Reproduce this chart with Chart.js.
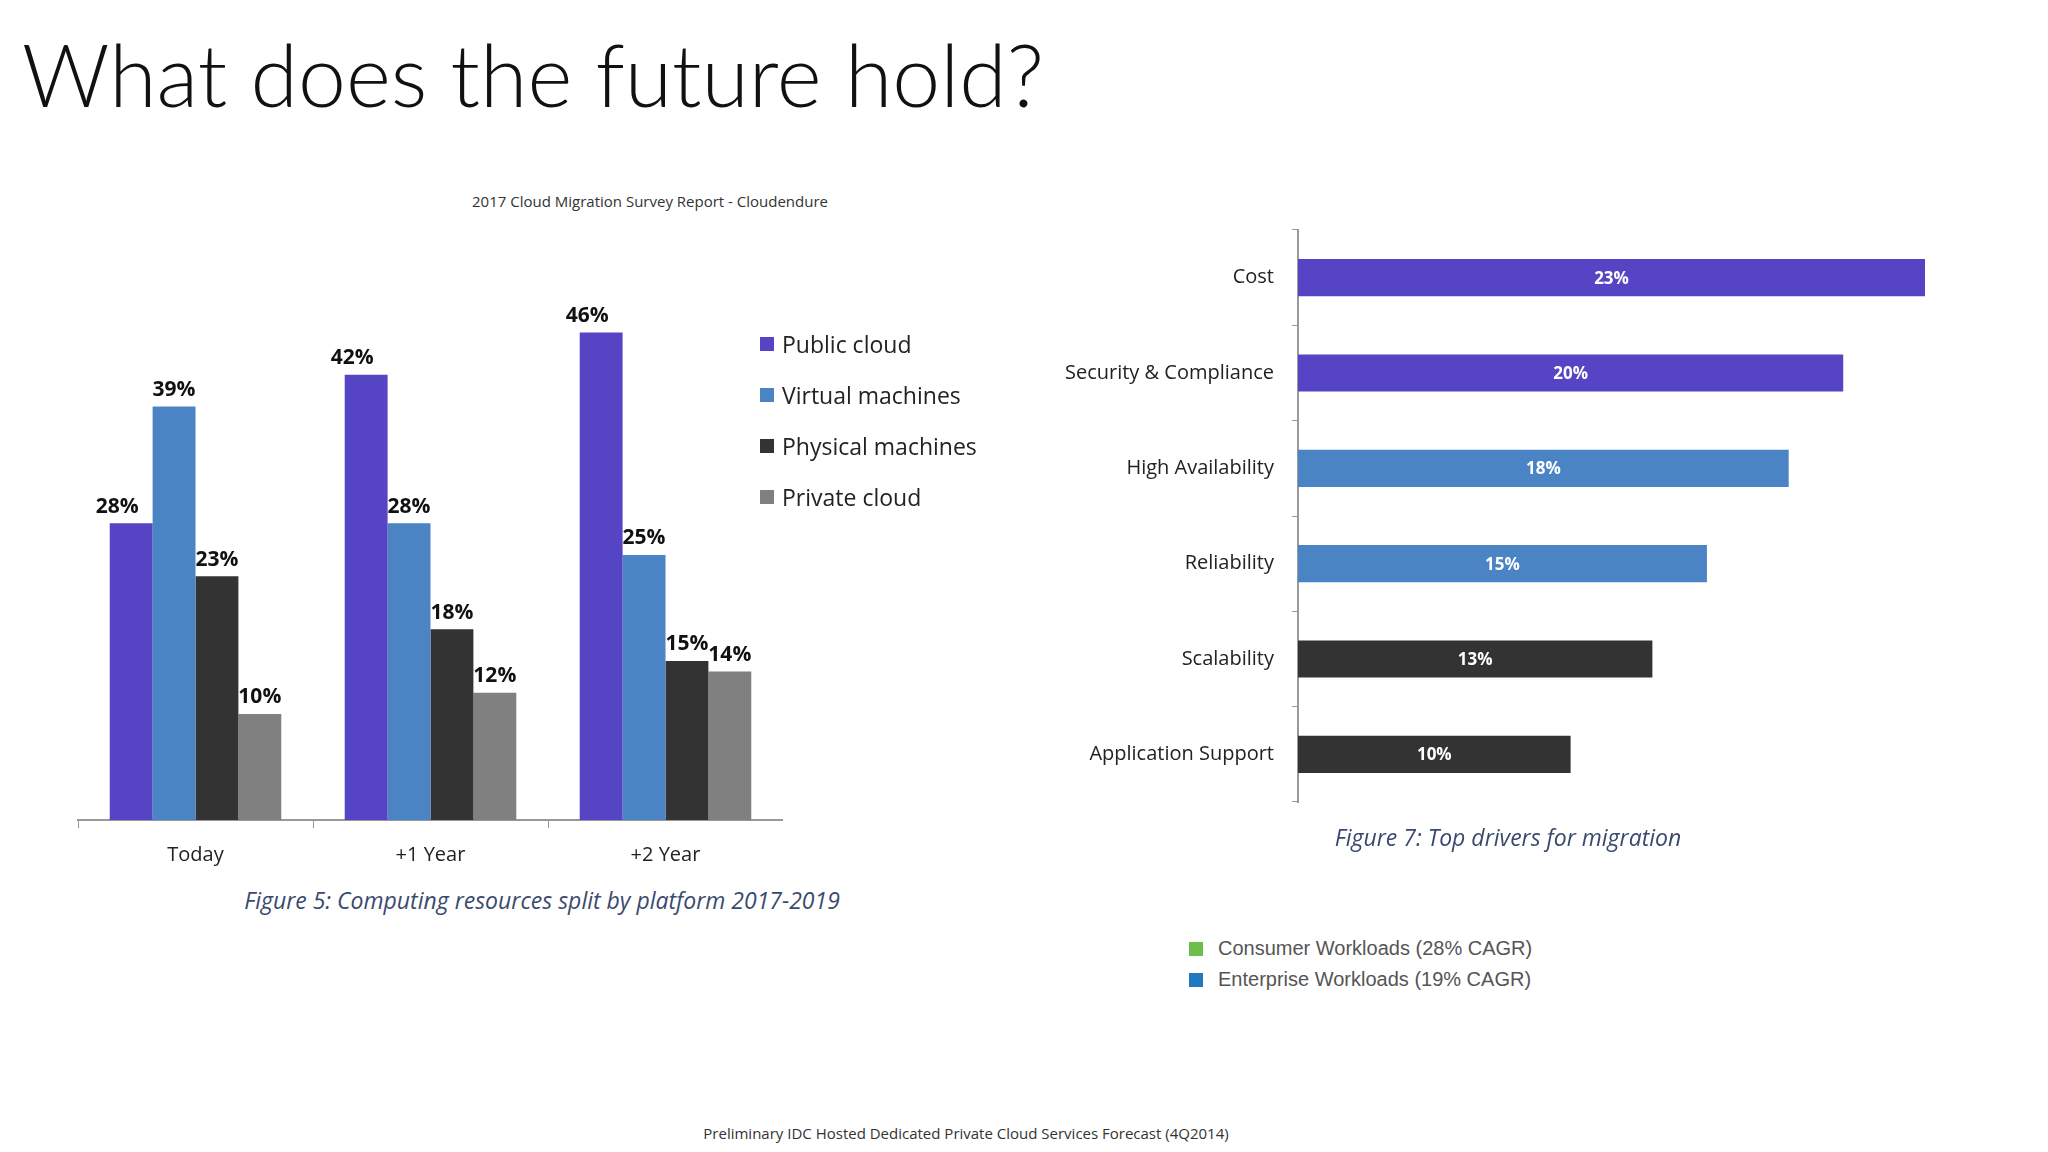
<!DOCTYPE html>
<html><head><meta charset="utf-8">
<script src="https://cdn.jsdelivr.net/npm/chart.js@4/dist/chart.umd.min.js"></script>
<style>
body{margin:0;width:2048px;height:1152px;background:#fff;position:relative;overflow:hidden;font-family:"Open Sans",sans-serif}
.abs{position:absolute}
#title{left:22px;top:22px;font-family:Lato,sans-serif;font-weight:300;font-size:86px;color:#111;white-space:nowrap}
.cap{font-style:italic;color:#3a4a6e;font-size:23px;white-space:nowrap;transform:translateX(-50%)}
.small{font-size:15px;color:#333;white-space:nowrap;transform:translateX(-50%)}
.leg div{display:flex;align-items:center;height:51px;font-size:23px;color:#222}
.leg span{display:inline-block;width:14px;height:14px;margin-right:8px}
.leg2 div{display:flex;align-items:center;height:31px;font-size:20px;color:#555;font-family:"Liberation Sans",sans-serif}
.leg2 span{display:inline-block;width:14px;height:14px;margin-right:15px}
</style></head><body>
<div id="title" class="abs">What does the future hold?</div>
<div class="abs small" style="left:650px;top:191px">2017 Cloud Migration Survey Report - Cloudendure</div>
<div class="abs" style="left:60px;top:290px;width:723px;height:592px"><canvas id="c1"></canvas></div>
<div id="leg1" class="abs leg" style="left:760px;top:318px"></div>
<div class="abs cap" style="left:542px;top:884px">Figure 5: Computing resources split by platform 2017-2019</div>
<div class="abs" style="left:1040px;top:200px;width:900px;height:632px"><canvas id="c2"></canvas></div>
<div class="abs cap" style="left:1508px;top:821px">Figure 7: Top drivers for migration</div>
<div id="leg3" class="abs leg2" style="left:1189px;top:933px"></div>
<div class="abs small" style="left:966px;top:1123px">Preliminary IDC Hosted Dedicated Private Cloud Services Forecast (4Q2014)</div>
<script>
const periods=["Today","+1 Year","+2 Year"];
const seriesNames=["Public cloud","Virtual machines","Physical machines","Private cloud"];
const publicCloud=[28,42,46];
const virtualMachines=[39,28,25];
const physicalMachines=[23,18,15];
const privateCloud=[10,12,14];
const seriesColors=["#5544c4","#4a84c4","#333333","#808080"];
const drivers=["Cost","Security & Compliance","High Availability","Reliability","Scalability","Application Support"];
const driverValues=[23,20,18,15,13,10];
const driverColors=["#5544c4","#5544c4","#4a84c4","#4a84c4","#333333","#333333"];
const extraLegend=["Consumer Workloads (28% CAGR)","Enterprise Workloads (19% CAGR)"];
const extraColors=["#6cc04a","#1f7ac0"];

document.getElementById('leg1').innerHTML=seriesNames.map((n,i)=>`<div><span style="background:${seriesColors[i]}"></span>${n}</div>`).join('');
document.getElementById('leg3').innerHTML=extraLegend.map((n,i)=>`<div><span style="background:${extraColors[i]}"></span>${n}</div>`).join('');

const topLabels={id:'topLabels',afterDatasetsDraw(ch){const c=ch.ctx;c.save();c.font='bold 21px "Open Sans"';c.fillStyle='#111';c.textAlign='center';c.textBaseline='bottom';
ch.data.datasets.forEach((ds,i)=>{ch.getDatasetMeta(i).data.forEach((b,j)=>{c.fillText(ds.data[j]+'%',b.x-(i===0?14:0),b.y-6);});});c.restore();}};
const inLabels={id:'inLabels',afterDatasetsDraw(ch){const c=ch.ctx;c.save();c.font='bold 17px "Open Sans"';c.fillStyle='#fff';c.textAlign='center';c.textBaseline='middle';
ch.getDatasetMeta(0).data.forEach((b,j)=>{c.fillText(driverValues[j]+'%',(b.x+b.base)/2,b.y+1);});c.restore();}};

const dsData=[publicCloud,virtualMachines,physicalMachines,privateCloud];
new Chart(document.getElementById('c1'),{type:'bar',
data:{labels:periods,datasets:seriesNames.map((n,i)=>({label:n,data:dsData[i],backgroundColor:seriesColors[i],categoryPercentage:0.73,barPercentage:1}))},
options:{responsive:true,maintainAspectRatio:false,animation:false,layout:{padding:{left:18,right:0}},
plugins:{legend:{display:false},tooltip:{enabled:false}},
scales:{y:{display:false,min:0,max:50},
x:{grid:{display:true,drawOnChartArea:false,offset:true,tickLength:8,color:'#999'},border:{color:'#999',width:2},ticks:{color:'#222',font:{size:20,family:'"Open Sans"'},padding:15}}}},
plugins:[topLabels]});

new Chart(document.getElementById('c2'),{type:'bar',
data:{labels:drivers,datasets:[{data:driverValues,backgroundColor:driverColors,categoryPercentage:0.39,barPercentage:1}]},
options:{indexAxis:'y',responsive:true,maintainAspectRatio:false,animation:false,layout:{padding:0},
plugins:{legend:{display:false},tooltip:{enabled:false}},
scales:{x:{display:false,min:0,max:23.55},
y:{afterFit(s){s.width=258;},grid:{display:true,drawOnChartArea:false,offset:true,tickLength:6,color:'#999'},border:{color:'#999',width:2},ticks:{color:'#222',font:{size:20,family:'"Open Sans"'},padding:18}}}},
plugins:[inLabels]});
</script></body></html>
